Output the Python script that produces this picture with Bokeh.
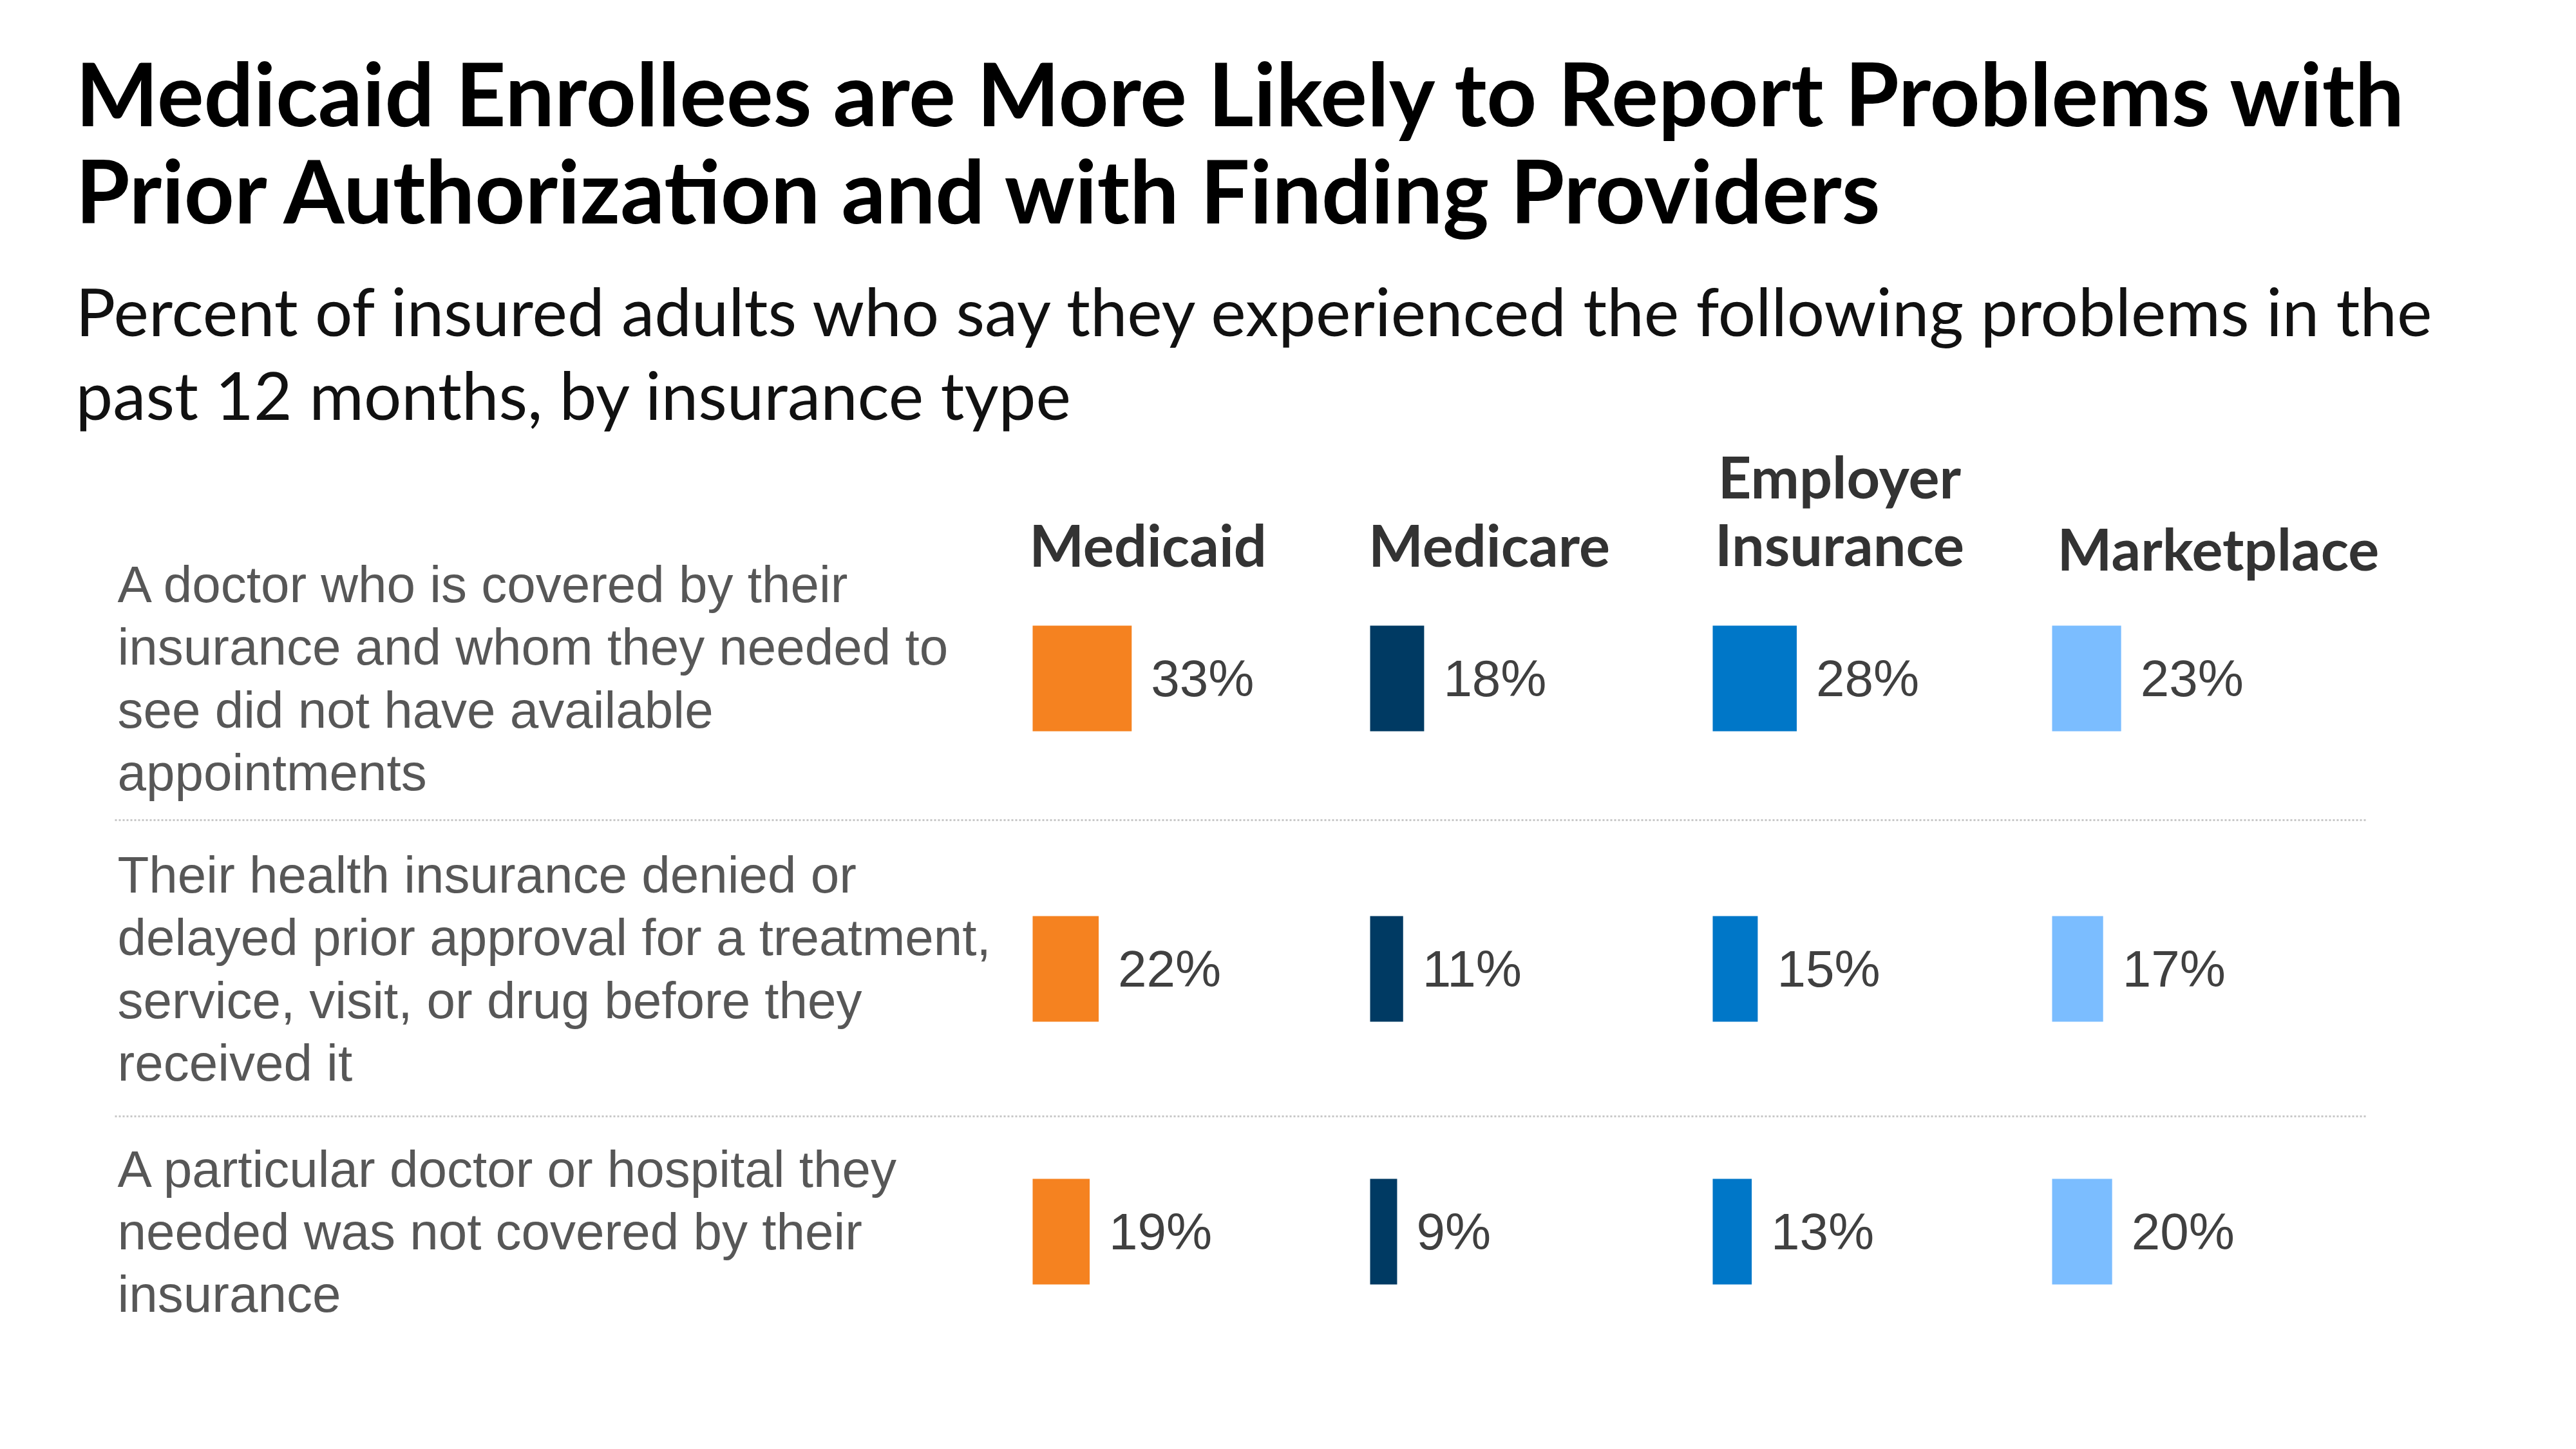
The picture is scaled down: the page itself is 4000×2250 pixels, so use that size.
from bokeh.plotting import figure
from bokeh.models import Range1d, ColumnDataSource
from bokeh.core.properties import value
from bokeh.embed import file_html
from bokeh.resources import INLINE

# ---------------- data ----------------
title_lines = ["Medicaid Enrollees are More Likely to Report Problems with",
               "Prior Authorization and with Finding Providers"]
subtitle_lines = ["Percent of insured adults who say they experienced the following problems in the",
                  "past 12 months, by insurance type"]
problems = [
    "A doctor who is covered by their\ninsurance and whom they needed to\nsee did not have available\nappointments",
    "Their health insurance denied or\ndelayed prior approval for a treatment,\nservice, visit, or drug before they\nreceived it",
    "A particular doctor or hospital they\nneeded was not covered by their\ninsurance",
]
insurance_types = ["Medicaid", "Medicare", "Employer\nInsurance", "Marketplace"]
medicaid = [33, 22, 19]
medicare = [18, 11, 9]
employer = [28, 15, 13]
marketplace = [23, 17, 20]
series = [medicaid, medicare, employer, marketplace]
colors = ["#F58220", "#003A63", "#0077C8", "#7BBDFF"]

# ---------------- layout ----------------
W, H = 3984, 2234
row_y = [1061, 1512, 1920]
col_x = [1611, 2135, 2667, 3194]
header_cx = [1790, 2320, 2864, 3452]
header_bottom = [906, 906, 906, 912]
px_per_pct = 4.66
bar_h = 164

p = figure(width=W, height=H, output_backend="svg", toolbar_location=None,
           x_range=Range1d(8, 8 + W), y_range=Range1d(8 + H, 8),
           min_border=0, outline_line_color=None,
           x_axis_location=None, y_axis_location=None)
p.xgrid.visible = False
p.ygrid.visible = False
p.background_fill_color = "white"
p.border_fill_color = "white"

# title & subtitle
p.text(x=[125, 125], y=[151, 302], text=title_lines, text_font=value("Lato"),
       text_font_style="bold", text_font_size="136px", text_color="#000000",
       text_baseline="middle", text_align="left")
p.text(x=[125, 125], y=[489, 619], text=subtitle_lines, text_font=value("Lato"),
       text_font_size="103px", text_color="#111111",
       text_baseline="middle", text_align="left")

# row labels
p.text(x=[190] * len(problems), y=row_y, text=problems,
       text_font=value("Liberation Sans"), text_font_size="80px",
       text_color="#575757", text_baseline="middle", text_align="left",
       text_line_height=1.09)

# separators
sep_y = [1281, 1741]
p.segment(x0=[186] * 2, x1=[3684] * 2, y0=sep_y, y1=sep_y,
          line_color="#c8c8c8", line_width=3, line_dash="3 3")

# column headers
p.text(x=header_cx, y=header_bottom, text=insurance_types,
       text_font=value("Lato"), text_font_style="bold", text_font_size="90px",
       text_color="#333333", text_baseline="bottom", text_align="center",
       text_line_height=0.98)

# bars + labels
for vals, cx, col in zip(series, col_x, colors):
    src = ColumnDataSource(dict(
        y=row_y,
        left=[cx] * len(vals),
        right=[cx + v * px_per_pct for v in vals],
        lx=[cx + v * px_per_pct + 30 for v in vals],
        lab=[f"{v}%" for v in vals],
    ))
    p.hbar(y="y", left="left", right="right", height=bar_h, source=src,
           fill_color=col, line_color=None)
    p.text(x="lx", y="y", text="lab", source=src,
           text_font=value("Liberation Sans"), text_font_size="80px",
           text_color="#404040", text_baseline="middle", text_align="left")

open("out.html", "w").write(file_html(p, INLINE))
